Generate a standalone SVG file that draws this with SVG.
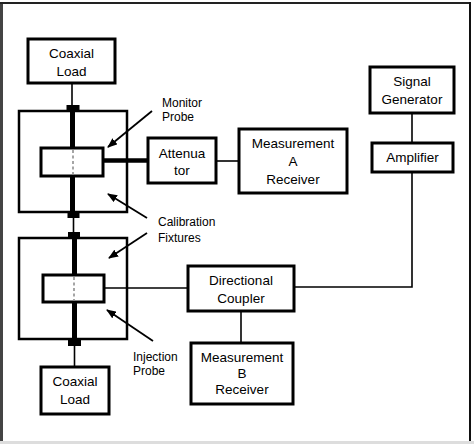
<svg xmlns="http://www.w3.org/2000/svg" width="474" height="444" viewBox="0 0 474 444">
<style>
.box{fill:#fff;stroke:#000;stroke-width:3}
.fix{fill:none;stroke:#000;stroke-width:2.5}
.t{font-family:"Liberation Sans",Arial,sans-serif;font-size:13.5px;fill:#000;text-anchor:middle}
.lab{font-family:"Liberation Sans",Arial,sans-serif;font-size:12px;fill:#000}
.thin{stroke:#000;stroke-width:1.6;fill:none}
.thick{stroke:#000;stroke-width:5;fill:none}
.arr{stroke:#000;stroke-width:1.8;fill:none;marker-end:url(#ah)}
.dash{stroke:#888;stroke-width:1.5;stroke-dasharray:3,2.5}
</style>
<defs>
<marker id="ah" markerWidth="10" markerHeight="8" refX="9" refY="4" orient="auto" markerUnits="userSpaceOnUse">
<path d="M0,0 L10,4 L0,8 Z" fill="#000"/>
</marker>
</defs>
<rect width="474" height="444" fill="#fff"/>
<g id="frame">
<rect x="0" y="441" width="474" height="3" fill="#ddd"/>
<rect x="0" y="2" width="3" height="439" fill="#444"/>
<line x1="0" y1="3" x2="471" y2="3" stroke="#222" stroke-width="2"/>
<line x1="470" y1="2" x2="470" y2="441" stroke="#111" stroke-width="2"/>
</g>
<g id="connectors">
<line class="thin" x1="72" y1="83" x2="72" y2="105"/>
<line class="thick" x1="72.5" y1="111" x2="72.5" y2="148"/>
<line class="thick" x1="72.5" y1="176" x2="72.5" y2="212"/>
<line class="thin" x1="73.5" y1="218" x2="73.5" y2="232"/>
<line class="thick" x1="74.5" y1="238" x2="74.5" y2="275"/>
<line class="thick" x1="74.5" y1="302" x2="74.5" y2="339"/>
<line class="thin" x1="74.5" y1="346" x2="74.5" y2="367"/>
<line stroke="#000" stroke-width="4.5" x1="103" y1="160.5" x2="148" y2="160.5"/>
<line class="thin" x1="216" y1="161" x2="239" y2="161"/>
<line class="thin" x1="104" y1="288" x2="188" y2="288"/>
<polyline class="thin" points="294,287 412,287 412,172"/>
<line class="thin" x1="412" y1="113" x2="412" y2="143"/>
<line class="thin" x1="241" y1="311" x2="241" y2="343"/>
<line class="arr" x1="152" y1="111" x2="108" y2="147"/>
<line class="arr" x1="147" y1="218" x2="108" y2="194"/>
<line class="arr" x1="147" y1="233" x2="109" y2="258"/>
<line class="arr" x1="153" y1="341" x2="107" y2="310"/>
</g>
<g id="coax-load-top">
<rect class="box" x="28" y="39" width="87" height="44"/>
<text class="t" x="71.5" y="58">Coaxial</text>
<text class="t" x="71.5" y="76">Load</text>
</g>
<g id="fixture-top">
<rect class="fix" x="19" y="111" width="108" height="101"/>
<rect x="66.5" y="105" width="13" height="6" fill="#000"/>
<rect x="67.5" y="212" width="12" height="6" fill="#000"/>
</g>
<g id="monitor-probe">
<rect class="box" x="41" y="148" width="62" height="28" stroke-width="2.5"/>
<line class="dash" x1="73" y1="150" x2="73" y2="175"/>
</g>
<g id="fixture-bottom">
<rect class="fix" x="19" y="238" width="108" height="101"/>
<rect x="68" y="232" width="12" height="6" fill="#000"/>
<rect x="68" y="339" width="13" height="7" fill="#000"/>
</g>
<g id="injection-probe">
<rect class="box" x="43" y="275" width="61" height="27" stroke-width="2.5"/>
<line class="dash" x1="74" y1="277" x2="74" y2="301"/>
</g>
<g id="coax-load-bottom">
<rect class="box" x="41" y="367" width="68" height="47"/>
<text class="t" x="75" y="386">Coaxial</text>
<text class="t" x="75" y="404">Load</text>
</g>
<g id="attenuator">
<rect class="box" x="148" y="138" width="68" height="45"/>
<text class="t" x="182" y="158">Attenua</text>
<text class="t" x="182" y="175">tor</text>
</g>
<g id="meas-a">
<rect class="box" x="239" y="129" width="108" height="64"/>
<text class="t" x="293" y="148">Measurement</text>
<text class="t" x="293" y="166">A</text>
<text class="t" x="293" y="184">Receiver</text>
</g>
<g id="signal-generator">
<rect class="box" x="370" y="67" width="84" height="46"/>
<text class="t" x="412" y="86">Signal</text>
<text class="t" x="412" y="104">Generator</text>
</g>
<g id="amplifier">
<rect class="box" x="372" y="143" width="81" height="29"/>
<text class="t" x="412.5" y="162">Amplifier</text>
</g>
<g id="directional-coupler">
<rect class="box" x="188" y="266" width="106" height="45"/>
<text class="t" x="241" y="285">Directional</text>
<text class="t" x="241" y="303">Coupler</text>
</g>
<g id="meas-b">
<rect class="box" x="191" y="343" width="102" height="61"/>
<text class="t" x="242" y="362">Measurement</text>
<text class="t" x="242" y="378">B</text>
<text class="t" x="242" y="394">Receiver</text>
</g>
<g id="labels">
<text class="lab" x="162" y="107">Monitor</text>
<text class="lab" x="162" y="121">Probe</text>
<text class="lab" x="158" y="226">Calibration</text>
<text class="lab" x="158" y="242">Fixtures</text>
<text class="lab" x="133" y="361">Injection</text>
<text class="lab" x="133" y="375">Probe</text>
</g>
</svg>
